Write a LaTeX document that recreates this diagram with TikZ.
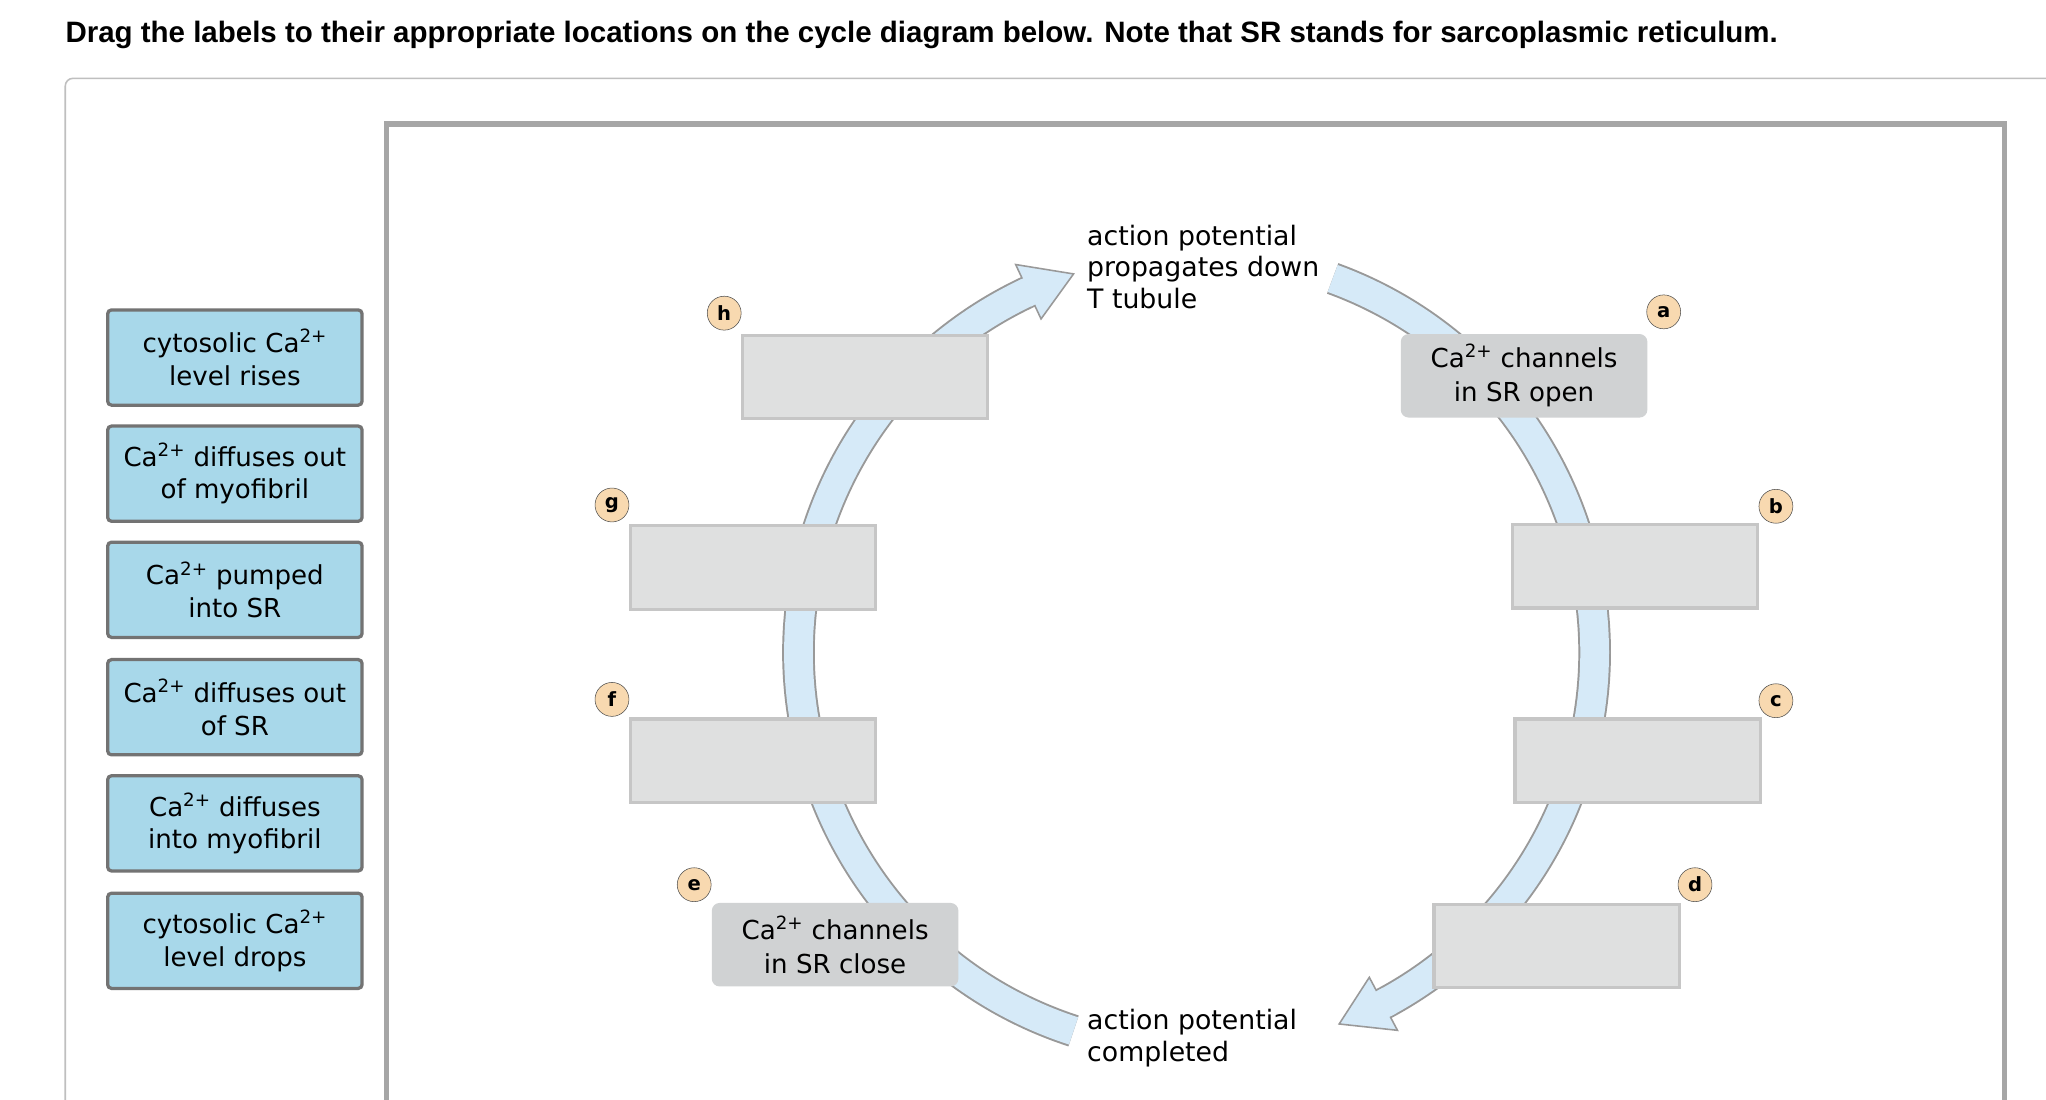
\documentclass[tikz,border=0pt]{standalone}
\usetikzlibrary{calc}
\usepackage{fontspec}
\setmainfont{DejaVu Sans}
\newfontfamily\titlefont{Liberation Sans}
\definecolor{lblue}{HTML}{A8D8EA}
\definecolor{band}{HTML}{D6EAF8}
\definecolor{gbox}{HTML}{DFE0E0}
\definecolor{cbox}{HTML}{D0D2D3}
\definecolor{orng}{HTML}{F8D9B0}
\newcommand{\cat}{Ca\textsuperscript{2+}}
\begin{document}
\begin{tikzpicture}[x=1pt,y=-1pt,
 lab/.style={draw=gray!90!black,line width=2.5pt,fill=lblue,rounded corners=3pt,minimum width=195pt,minimum height=73pt,align=center,font=\fontsize{20}{25}\selectfont},
 gb/.style={draw=gray!45,line width=2.5pt,fill=gbox,minimum width=188pt,minimum height=64pt},
 cb/.style={fill=cbox,rounded corners=6pt,minimum width=189pt,minimum height=64pt,align=center,font=\fontsize{20}{26}\selectfont},
 let/.style={circle,draw=black!70,fill=orng,inner sep=0pt,minimum size=26pt,font=\bfseries\fontsize{15}{15}\selectfont},
 txt/.style={align=left,anchor=north west,font=\fontsize{20.5}{24.5}\selectfont,inner sep=0pt}]
\useasboundingbox (0,0) rectangle (1568,843);
\fill[white] (0,0) rectangle (1568,843);
\node[anchor=west,inner sep=0pt,font=\titlefont\bfseries\fontsize{22.6}{26}\selectfont] (title) at (50,27) {Drag the labels to their appropriate locations on the cycle diagram below. Note that SR stands for sarcoplasmic reticulum.};
\draw[gray!50,line width=1.2pt,rounded corners=6pt] (50,850) -- (50,60) -- (1575,60);
\draw[gray!70,line width=4pt,fill=white] (296,850) -- (296,95) -- (1536,95) -- (1536,850);
% labels
\node[lab] (l1) at (180,274) {cytosolic \cat\\level rises};
\node[lab] (l2) at (180,363) {\cat{} diffuses out\\of myofibril};
\node[lab] (l3) at (180,452) {\cat{} pumped\\into SR};
\node[lab] (l4) at (180,542) {\cat{} diffuses out\\of SR};
\node[lab] (l5) at (180,631) {\cat{} diffuses\\into myofibril};
\node[lab] (l6) at (180,721) {cytosolic \cat\\level drops};
% cycle band
\coordinate (c) at (917,500);
\foreach \a/\b in {70/-62, 252/115}{
 \draw[gray!80,line width=25pt] ($(c)+(\a:305pt)$) arc[start angle=\a,end angle=\b,radius=305pt];
 \draw[band,line width=22pt] ($(c)+(\a:305pt)$) arc[start angle=\a,end angle=\b,radius=305pt];
}
\filldraw[fill=band,draw=gray!80,line width=1.2pt] ($(c)+(115:328pt)$) -- ($(c)+(108:305pt)$) -- ($(c)+(115:282pt)$) -- cycle;
\filldraw[fill=band,draw=gray!80,line width=1.2pt] ($(c)+(-62:328pt)$) -- ($(c)+(-69:305pt)$) -- ($(c)+(-62:282pt)$) -- cycle;
\fill[band] ($(c)+(115.6:294pt)$) -- ($(c)+(115.6:316pt)$) -- ($(c)+(114:316pt)$) -- ($(c)+(114:294pt)$) -- cycle;
\fill[band] ($(c)+(-62.6:294pt)$) -- ($(c)+(-62.6:316pt)$) -- ($(c)+(-61:316pt)$) -- ($(c)+(-61:294pt)$) -- cycle;
% boxes
\node[gb] (h) at (663,289) {};
\node[gb] (g) at (577,435) {};
\node[gb] (f) at (577,583) {};
\node[gb] (b) at (1253,434) {};
\node[gb] (cc) at (1255,583) {};
\node[gb] (d) at (1193,725) {};
\node[cb] (open) at (1168,288) {\cat{} channels\\in SR open};
\node[cb] (close) at (640,724) {\cat{} channels\\in SR close};
\node[txt] (top) at (833,172) {action potential\\propagates down\\T tubule};
\node[txt] (bot) at (833,773) {action potential\\completed};
% letters
\node[let] (lh) at (555,240) {h};
\node[let] (la) at (1275,239) {a};
\node[let] (lg) at (469,387) {g};
\node[let] (lb) at (1361,388) {b};
\node[let] (lf) at (469,536) {f};
\node[let] (lc) at (1361,537) {c};
\node[let] (le) at (532,678) {e};
\node[let] (ld) at (1299,678) {d};
\end{tikzpicture}
\end{document}
